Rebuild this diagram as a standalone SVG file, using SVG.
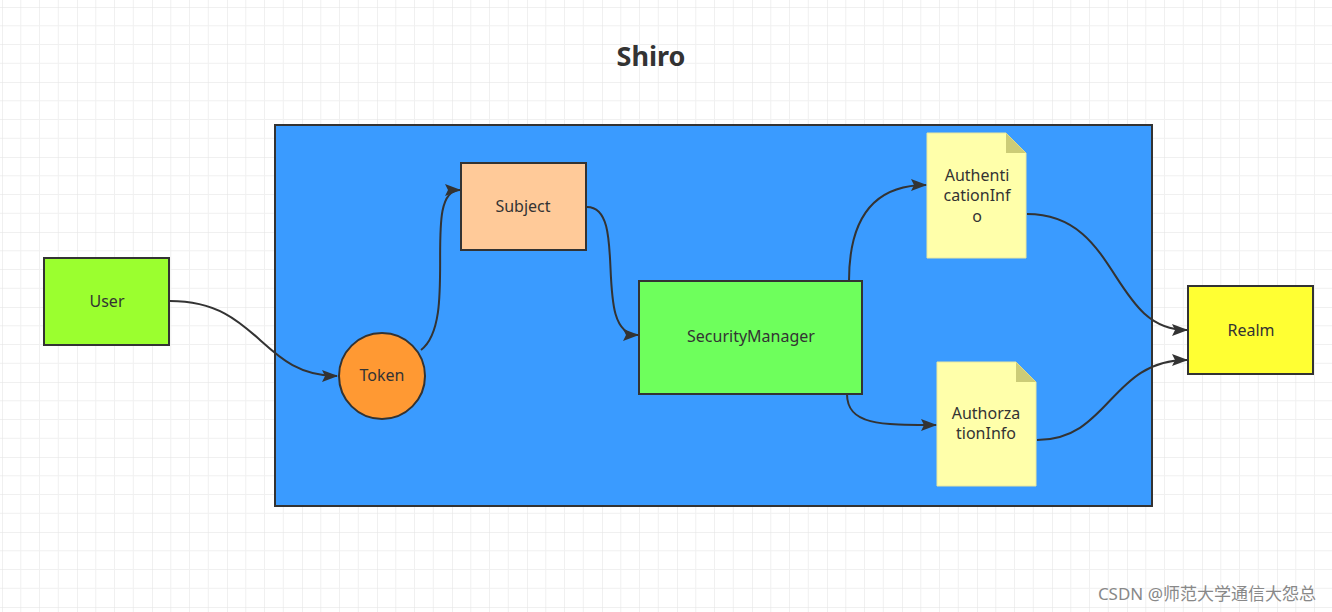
<svg xmlns="http://www.w3.org/2000/svg" width="1332" height="612" viewBox="0 0 1332 612">
<defs>
<pattern id="g" x="2" y="7" width="75" height="75" patternUnits="userSpaceOnUse">
<path d="M18.75 0V75M37.5 0V75M56.25 0V75M0 18.75H75M0 37.5H75M0 56.25H75" stroke="#f0f0f0" stroke-width="1"/>
<path d="M0 0V75M0 0H75" stroke="#e2e2e2" stroke-width="1"/>
</pattern>
<marker id="a" markerWidth="16" markerHeight="12" refX="15" refY="6" orient="auto" markerUnits="userSpaceOnUse"><path d="M0 0L16 6L0 12L3 6Z" fill="#333"/></marker>
</defs>
<style>
text{font-family:"Microsoft YaHei","Noto Sans",sans-serif;font-size:16px;fill:#333;text-anchor:middle}
.n{stroke:#333;stroke-width:2}
.c path{fill:none;stroke:#333;stroke-width:2;marker-end:url(#a)}
</style>
<rect width="1332" height="612" fill="#fff"/>
<rect width="1332" height="612" fill="url(#g)"/>
<text x="651" y="66" style="font-size:27px;font-weight:bold">Shiro</text>
<g id="container"><rect class="n" x="275" y="125" width="877" height="381" fill="#3a9bff" stroke-width="3"/></g>
<g id="user"><rect class="n" x="44" y="258" width="125" height="87" fill="#9bff2f"/><text x="107" y="307">User</text></g>
<g id="token"><circle class="n" cx="382" cy="376" r="43" fill="#ff9933"/><text x="382" y="381">Token</text></g>
<g id="subject"><rect class="n" x="461" y="163" width="125" height="87" fill="#ffca99"/><text x="523" y="212">Subject</text></g>
<g id="sm"><rect class="n" x="639" y="281" width="223" height="113" fill="#6eff5c"/><text x="751" y="342">SecurityManager</text></g>
<g id="authn"><path d="M927 133H1006L1026 153V258H927Z" fill="#ffffaa" stroke="#e8e8a0"/><path d="M1006 133V153H1026Z" fill="#cccc77"/><text x="977" y="181">Authenti</text><text x="977" y="201">cationInf</text><text x="977" y="222">o</text></g>
<g id="authz"><path d="M937 362H1016L1036 382V486H937Z" fill="#ffffaa" stroke="#e8e8a0"/><path d="M1016 362V382H1036Z" fill="#cccc77"/><text x="986" y="419">Authorza</text><text x="986" y="439">tionInfo</text></g>
<g id="realm"><rect class="n" x="1188" y="286" width="125" height="88" fill="#ffff33"/><text x="1251" y="336">Realm</text></g>
<g class="c" id="connectors">
<path d="M170 301C260 301 260 376 337 376"/>
<path d="M421 350C460 320 420 190 460 190"/>
<path d="M587 207C630 207 590 335 638 335"/>
<path d="M849 281C849 200 890 185 926 185"/>
<path d="M847 394C847 425 880 425 936 425"/>
<path d="M1027 214C1120 214 1110 330 1187 330"/>
<path d="M1037 440C1110 440 1110 360 1187 360"/>
</g>
<text x="1316" y="600" style="font-size:17px;fill:#888;text-anchor:end;font-family:'Noto Sans','Noto Sans CJK SC',sans-serif">CSDN @师范大学通信大怨总</text>
</svg>
